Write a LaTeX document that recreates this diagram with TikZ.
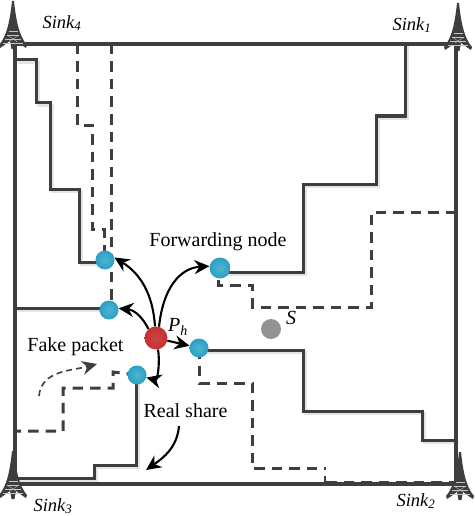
\documentclass[tikz,border=0pt]{standalone}
\usepackage{fontspec}
\setmainfont{Liberation Serif}
\usetikzlibrary{arrows.meta,backgrounds}
\definecolor{ink}{HTML}{3E3E3E}
\definecolor{halo}{HTML}{E4E4E4}
\definecolor{teal}{HTML}{2C9FC4}
\definecolor{tealhi}{HTML}{4FB5CF}
\definecolor{redball}{HTML}{C62F32}
\tikzset{
  frameline/.style={draw=ink,line width=4.2pt,line cap=butt},
  solidpath/.style={draw=ink,line width=3pt,line join=miter,preaction={draw=halo,line width=3pt,transform canvas={xshift=2.5pt,yshift=-2.5pt}}},
  dashpath/.style={draw=ink,line width=3pt,dash pattern=on 10.5pt off 7pt},
  sensor/.style={circle,minimum size=19pt,inner sep=0pt,inner color=tealhi,outer color=teal},
  origin/.style={circle,minimum size=23pt,inner sep=0pt,inner color=redball!90!white,outer color=redball},
  source/.style={circle,minimum size=20pt,inner sep=0pt,fill=gray!85},
  lab/.style={font=\fontsize{20}{22}\selectfont,inner sep=0pt,text=black},
  sinklab/.style={font=\fontsize{18.5}{20}\selectfont\itshape,inner sep=0pt,text=black},
  flow/.style={draw=black,line width=2.1pt,-{Stealth[length=15pt,width=14pt]}},
  fakeflow/.style={draw=ink,line width=1.6pt,dash pattern=on 6pt off 4pt,-{Stealth[length=15pt,width=14pt]}},
  towerpic/.pic={
    \fill[ink] (-1,-47) .. controls (-3,-28) and (-6,-12) .. (-14,-3) -- (-13,0) .. controls (-8,-3) and (-5,-6) .. (-3,-7) -- (-1.5,1) -- (1.5,1) -- (3,-7) .. controls (5,-6) and (8,-3) .. (13,0) -- (14,-3) .. controls (6,-12) and (3,-28) .. (1,-47) -- cycle;
    \draw[white!70!ink,line width=.4pt] (-4.5,-17) -- (4.5,-17) (-6,-13) -- (6,-13) (-8,-9) -- (8,-9) (-10,-5) -- (10,-5);
    \draw[white!70!ink,line width=.35pt] (-6,-13) -- (3,-7) (6,-13) -- (-3,-7);
  }
}
\begin{document}
\begin{tikzpicture}[x=1pt,y=-1pt]
\useasboundingbox (0,0) rectangle (474,516);
% corners of the field
\coordinate (cNW) at (15,44);
\coordinate (cNE) at (456,44);
\coordinate (cSE) at (456,484);
\coordinate (cSW) at (15,484);
% nodes
\node[sensor] (a) at (105,260) {};
\node[sensor] (b) at (109,310) {};
\node[sensor,minimum size=21pt] (c) at (220,268) {};
\node[sensor] (d) at (199,348) {};
\node[sensor] (e) at (137,375) {};
\node[origin] (ph) at (156,338) {};
\node[source] (s) at (271,329) {};
% text
\node[sinklab] (t4) at (62,23) {Sink\textsubscript{4}};
\node[sinklab] (t1) at (412,25) {Sink\textsubscript{1}};
\node[sinklab] (t2) at (416,501) {Sink\textsubscript{2}};
\node[sinklab] (t3) at (53,506) {Sink\textsubscript{3}};
\node[lab] (tf) at (218,242) {Forwarding node};
\node[lab] (tk) at (75.5,347) {Fake packet};
\node[lab] (tr) at (185.5,411) {Real share};
\node[lab,font=\fontsize{20}{22}\selectfont\itshape] (tp) at (178,327) {P\textsubscript{h}};
\node[lab,font=\fontsize{20}{22}\selectfont\itshape] (ts) at (291,318) {S};
% arrow free ends
\coordinate (r0) at (179,426);
\coordinate (r1) at (146,470);
\coordinate (k0) at (39,396);
\coordinate (k1) at (97,364);
\begin{scope}[on background layer]
  % real-share routes
  \draw[solidpath] (15,60) -- (36,60) -- (36,103) -- (50,103) -- (50,189) -- (79,189) -- (79,262) -- (a.center |- 79,262);
  \draw[solidpath] (15,308) -- (b.center |- 15,308);
  \draw[solidpath] (405,44) -- (405,116) -- (376,116) -- (376,184) -- (303,184) -- (303,272) -- (c.center |- 303,272);
  \draw[solidpath] (d.center |- 303,350) -- (303,350) -- (303,411) -- (422,411) -- (422,440) -- (456,440);
  \draw[solidpath] (e.center -| 136,465) -- (136,465) -- (94,465) -- (94,478) -- (15,478);
  % fake routes
  \draw[dashpath] (77,44) -- (77,125) -- (92,125) -- (92,229) -- (104,229) -- (a.center -| 104,229);
  \draw[dashpath] (111,44) -- (111,300) -- (b.center -| 111,300);
  \draw[dashpath] (456,212) -- (371,212) -- (371,307) -- (252,307) -- (252,285) -- (218,285) -- (c.center -| 218,285);
  \draw[dashpath] (d.center) -- (199,383) -- (252,383) -- (252,468) -- (326,468);
  \draw[ink,line width=2pt] (325,476) -- (325,482);
  \draw[dashpath,line width=1.8pt] (326,481.5) -- (456,481.5);
  \draw[dashpath] (e.center) -- (113,372) -- (113,388) -- (63,388) -- (63,431) -- (15,431);
  % frame
  \draw[frameline] (cNW) -- (cNE) -- (cSE) -- (cSW) -- cycle;
\end{scope}
% towers
\pic at (13,48) {towerpic};
\pic at (458,50) {towerpic};
\pic at (13,498) {towerpic};
\pic at (460,499) {towerpic};
% packet arrows
\draw[flow] (ph.95) .. controls (153,295) and (141,274) .. (a.15);
\draw[flow] (ph.75) .. controls (163,288) and (180,268) .. (c.170);
\draw[flow] (ph.130) .. controls (143,318) and (135,310) .. (b.10);
\draw[flow] (ph) -- (d);
\draw[flow] (ph) to[out=-80,in=-15] (e);
\draw[flow] (r0) to[out=-95,in=35] (r1);
\draw[fakeflow] (k0) to[out=85,in=195] (k1);
\end{tikzpicture}
\end{document}
